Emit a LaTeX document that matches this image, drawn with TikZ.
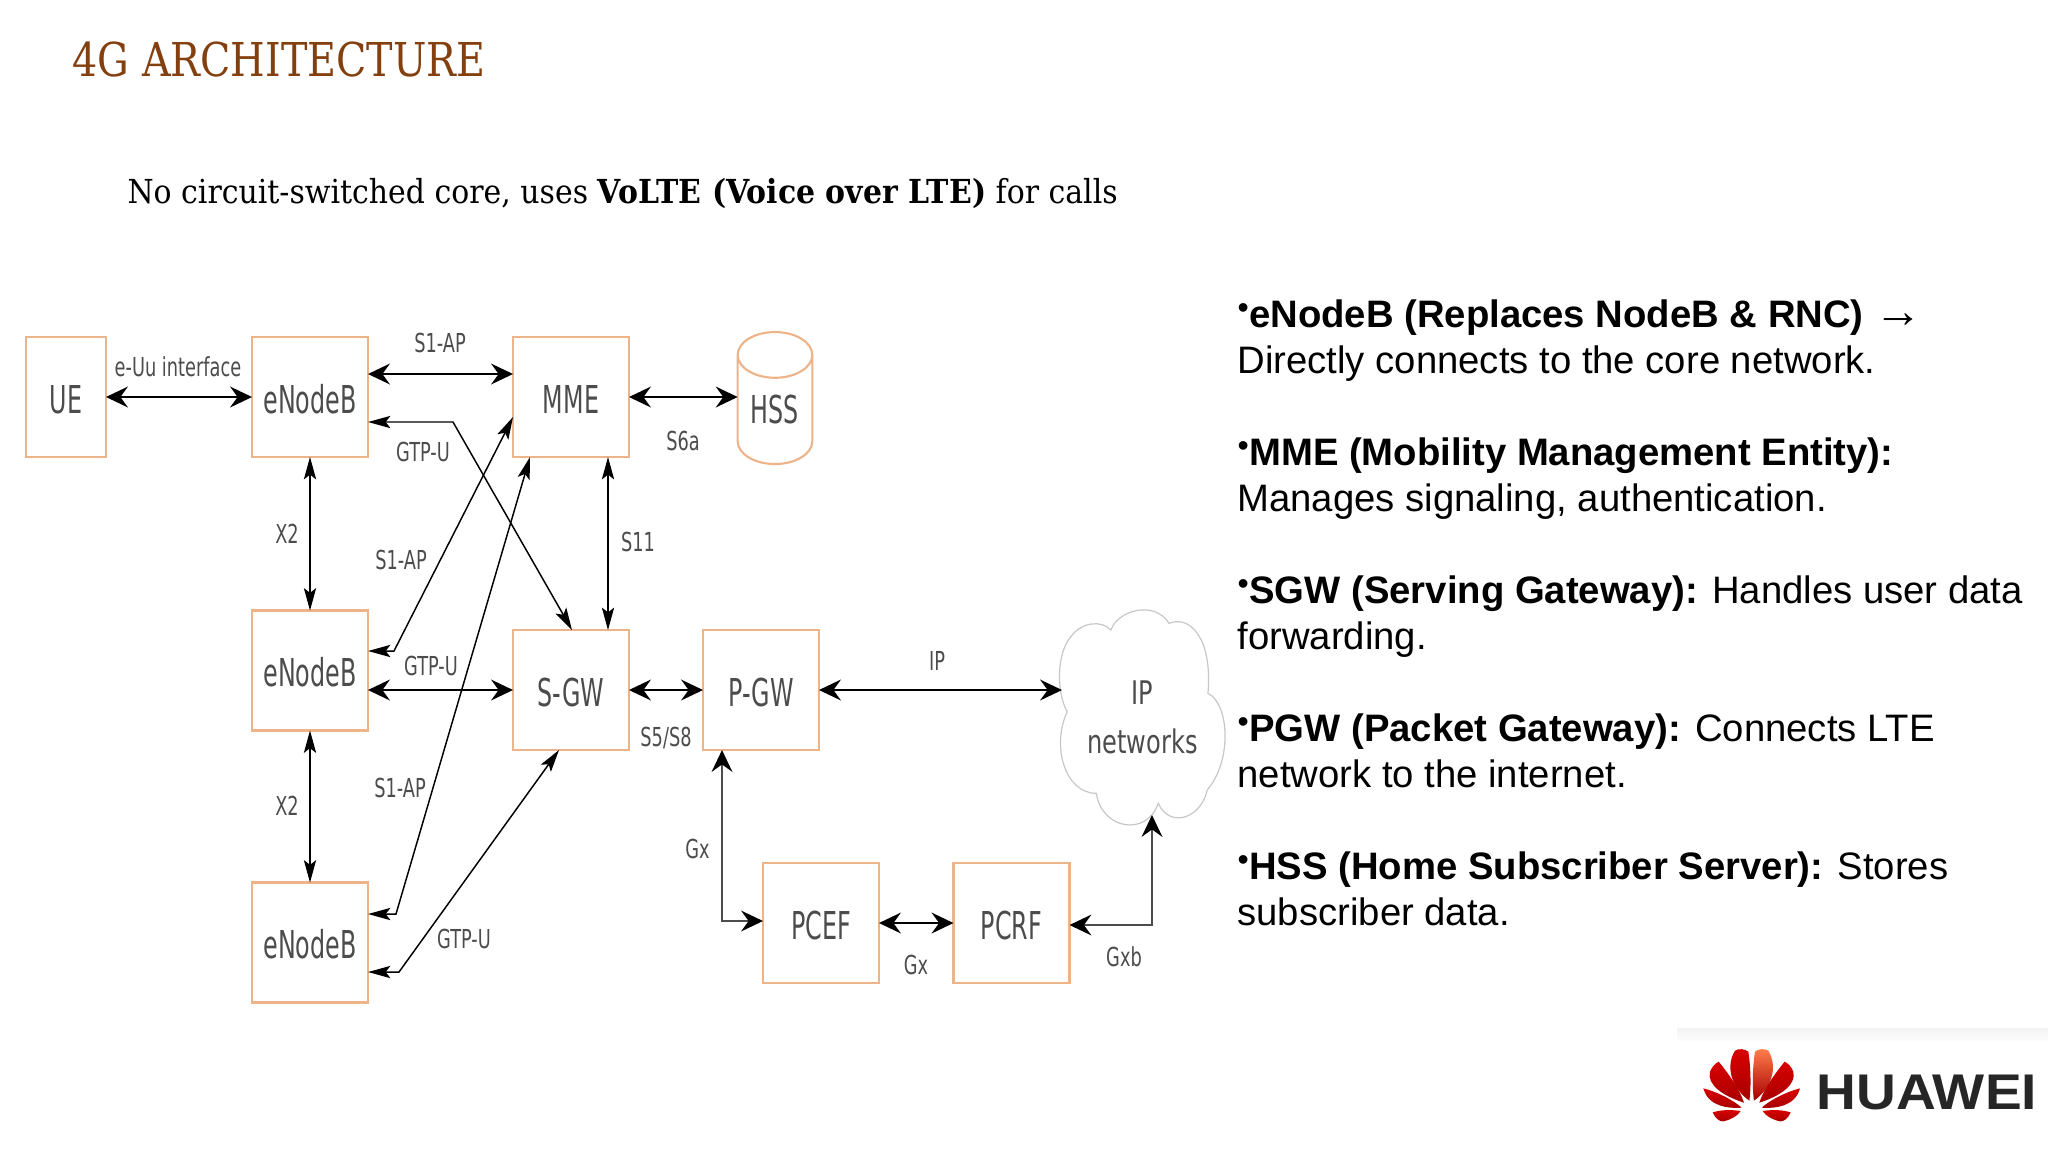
\documentclass[tikz,border=0pt]{standalone}
\usepackage{fontspec}
\setmainfont{Liberation Sans}
\newfontfamily\boxfont[FakeStretch=0.62]{DejaVu Sans}
\newfontfamily\linkfont[FakeStretch=0.68]{DejaVu Sans}
\newfontfamily\cloudfont[FakeStretch=0.74]{DejaVu Sans}
\newfontfamily\headfont[FakeStretch=0.85]{DejaVu Serif}
\newfontfamily\leadfont[FakeStretch=0.905]{DejaVu Serif}
\newfontfamily\brandfont[FakeStretch=1.1]{Liberation Sans}
\usetikzlibrary{positioning, arrows.meta, shapes.geometric}
\definecolor{boxorange}{HTML}{EDB48A}
\definecolor{inkgrey}{HTML}{4C4C4C}
\definecolor{titlebrown}{HTML}{843F0F}
\newcommand{\dotmark}{\raisebox{3.2pt}{\fontsize{12}{12}\selectfont •}\kern0.2pt}
\tikzstyle{arrow} = [<->,>={Stealth[length=8.2pt,width=7.8pt,inset=2.8pt,black]},line width=0.9pt,black]

\begin{document}
\begin{tikzpicture}[x=0.375pt,y=-0.375pt]
    \tikzstyle{block} = [rectangle, draw=boxorange, line width=0.8pt, fill=white, inner sep=0pt, outer sep=0pt, minimum width=43.5pt, minimum height=45pt, text=inkgrey, text height=12pt, text depth=0pt, font=\boxfont\fontsize{14.4}{16}\selectfont]
    \tikzstyle{tag} = [inner sep=0pt, text=inkgrey, font=\linkfont\fontsize{9.8}{11}\selectfont]
    \tikzstyle{thin arrow} = [<->,>={Stealth[length=8.4pt,width=4.6pt,inset=1.8pt]}, line width=0.45pt, black]
    \tikzstyle{point} = [anchor=base west, inner sep=0pt, font=\fontsize{14.35}{16}\selectfont]
    \tikzstyle{petal} = [draw=none, top color=#1, bottom color=red!65!black]

    \useasboundingbox (0,0) rectangle (2048,1152);

    \node[anchor=base west, inner sep=0pt, text=titlebrown, font=\headfont\fontsize{17.5}{20}\selectfont](title) at (72,76) {4G ARCHITECTURE};
    \node[anchor=base west, inner sep=0pt, font=\leadfont\fontsize{12.4}{15}\selectfont](lead) at (127,203) {No circuit-switched core, uses \textbf{VoLTE (Voice over LTE)} for calls};

    % boxes
    \node[block, minimum width=30pt](ue) at (66,397) {UE};
    \node[block](enb1) at (310,397) {eNodeB};
    \node[block](mme) at (571,397) {MME};
    \node[block](enb2) at (310,670.5) {eNodeB};
    \node[block](sgw) at (571,690) {S-GW};
    \node[block](pgw) at (761,690) {P-GW};
    \node[block](enb3) at (310,942.5) {eNodeB};
    \node[block](pcef) at (821,923) {PCEF};
    \node[block](pcrf) at (1011.5,923) {PCRF};
    \node[cylinder, shape border rotate=90, aspect=0.95, draw=boxorange, line width=0.8pt, inner sep=0pt, outer sep=0pt, minimum width=28pt, minimum height=49.5pt, text=inkgrey, font=\boxfont\fontsize{14.4}{16}\selectfont](hss) at (775,410) {HSS};

    % cloud
    \begin{scope}[shift={(680,580)}, x=0.13636pt, y=-0.125pt]
        \draw[draw=black!22, line width=0.45pt] (1065,395) .. controls (1035,340) and (1035,220) .. (1075,170) .. controls (1105,125) and (1160,120) .. (1185,150)
            .. controls (1205,90) and (1305,60) .. (1345,130) .. controls (1400,105) and (1465,170) .. (1452,340)
            .. controls (1510,370) and (1520,540) .. (1450,630) .. controls (1435,710) and (1350,750) .. (1315,670)
            .. controls (1285,770) and (1160,750) .. (1145,640) .. controls (1060,640) and (1020,500) .. (1065,395) -- cycle;
    \end{scope}
    \coordinate (cloudw) at (1062,690);
    \coordinate (cloudb) at (1152,815);
    \node[tag, align=center, font=\cloudfont\fontsize{12.2}{18.4}\selectfont](ipnet) at (1142.5,717) {IP\\networks};

    % links
    \draw[arrow] (ue.east) -- (enb1.west);
    \draw[arrow] (enb1.east |- 0,374) -- (mme.west |- 0,374);
    \draw[arrow] (mme.east) -- (hss.west |- mme.east);
    \draw[thin arrow] (enb1.south) -- (enb2.north);
    \draw[thin arrow] (enb2.south) -- (enb3.north);
    \draw[thin arrow] (mme.south -| 608,0) -- (sgw.north -| 608,0);
    \draw[thin arrow, line width=0.55pt] (enb1.east |- 0,422) -- (453,422) -- (sgw.north -| 572,0);
    \draw[thin arrow, line width=0.55pt] (enb2.east |- 0,651) -- (394,651) -- (mme.west |- 0,417);
    \draw[thin arrow, line width=0.55pt] (enb3.east |- 0,914) -- (396,914) -- (mme.south -| 530,0);
    \draw[thin arrow, line width=0.55pt] (enb3.east |- 0,972) -- (399,972) -- (sgw.south -| 559,0);
    \draw[arrow] (enb2.east |- sgw.west) -- (sgw.west);
    \draw[arrow] (sgw.east) -- (pgw.west);
    \draw[arrow] (pgw.east) -- (cloudw);
    \draw[arrow, line width=0.7pt, draw=black!70] (pgw.south -| 722,0) -- (722,921) -- (pcef.west |- 0,921);
    \draw[arrow] (pcef.east) -- (pcrf.west);
    \draw[arrow, line width=0.7pt, draw=black!70] (pcrf.east |- 0,925) -- (1152,925) -- (cloudb);

    % link names
    \node[tag](uu) at (178,367) {e-Uu interface};
    \node[tag](s1a) at (440,343) {S1-AP};
    \node[tag](gtpa) at (423,452) {GTP-U};
    \node[tag](x2a) at (287,534) {X2};
    \node[tag](s1b) at (401,560) {S1-AP};
    \node[tag](gtpb) at (431,666) {GTP-U};
    \node[tag](s11) at (638,542) {S11};
    \node[tag](s6a) at (683,441) {S6a};
    \node[tag](s5) at (666,738) {S5/S8};
    \node[tag](x2b) at (287,806) {X2};
    \node[tag](s1c) at (400,788) {S1-AP};
    \node[tag](gtpc) at (464,939) {GTP-U};
    \node[tag](gxa) at (697.5,849) {Gx};
    \node[tag](gxb) at (916,965) {Gx};
    \node[tag](gxc) at (1124,957) {Gxb};
    \node[tag](ip) at (937,661) {IP};

    % text on the right
    \node[point](t1) at (1237,327) {\dotmark\textbf{eNodeB (Replaces NodeB \& RNC)} {\fontsize{18}{18}\selectfont →}};
    \node[point](t2) at (1237,373) {Directly connects to the core network.};
    \node[point](t3) at (1237,465) {\dotmark\textbf{MME (Mobility Management Entity):}};
    \node[point](t4) at (1237,511) {Manages signaling, authentication.};
    \node[point](t5) at (1237,603) {\dotmark\textbf{SGW (Serving Gateway):} Handles user data};
    \node[point](t6) at (1237,649) {forwarding.};
    \node[point](t7) at (1237,741) {\dotmark\textbf{PGW (Packet Gateway):} Connects LTE};
    \node[point](t8) at (1237,787) {network to the internet.};
    \node[point](t9) at (1237,879) {\dotmark\textbf{HSS (Home Subscriber Server):} Stores};
    \node[point](t10) at (1237,925) {subscriber data.};

    % logo
    \fill[top color=black!5, bottom color=white, draw=none] (1677,1028) rectangle (2048,1042);
    \begin{scope}[shift={(1660,1010)}, x=0.125pt, y=-0.125pt]
        \path[petal=red!85!black] (268,272) .. controls (215,235) and (195,170) .. (225,122) .. controls (235,115) and (255,116) .. (265,125) .. controls (272,170) and (274,230) .. cycle;
        \path[petal=red!85!black] (252,278) .. controls (190,258) and (140,225) .. (150,185) .. controls (155,172) and (165,160) .. (176,155) .. controls (205,190) and (240,240) .. cycle;
        \path[petal=red!85!black] (245,293) .. controls (205,296) and (145,290) .. (130,235) .. controls (170,245) and (220,270) .. cycle;
        \path[petal=red!85!black] (242,303) .. controls (210,298) and (180,300) .. (158,307) .. controls (165,325) and (180,336) .. (190,334) .. controls (215,328) and (232,318) .. cycle;
    \end{scope}
    \begin{scope}[shift={(1843.3,1010)}, x=-0.125pt, y=-0.125pt]
        \path[petal=orange!55!red!70] (268,272) .. controls (215,235) and (195,170) .. (225,122) .. controls (235,115) and (255,116) .. (265,125) .. controls (272,170) and (274,230) .. cycle;
        \path[petal=red!85!black] (252,278) .. controls (190,258) and (140,225) .. (150,185) .. controls (155,172) and (165,160) .. (176,155) .. controls (205,190) and (240,240) .. cycle;
        \path[petal=red!85!black] (245,293) .. controls (205,296) and (145,290) .. (130,235) .. controls (170,245) and (220,270) .. cycle;
        \path[petal=red!85!black] (242,303) .. controls (210,298) and (180,300) .. (158,307) .. controls (165,325) and (180,336) .. (190,334) .. controls (215,328) and (232,318) .. cycle;
    \end{scope}
    \node[anchor=base west, inner sep=0pt, text=black!85, font=\brandfont\bfseries\fontsize{18.8}{20}\selectfont](brand) at (1816,1109) {HUAWEI};
\end{tikzpicture}
\end{document}
